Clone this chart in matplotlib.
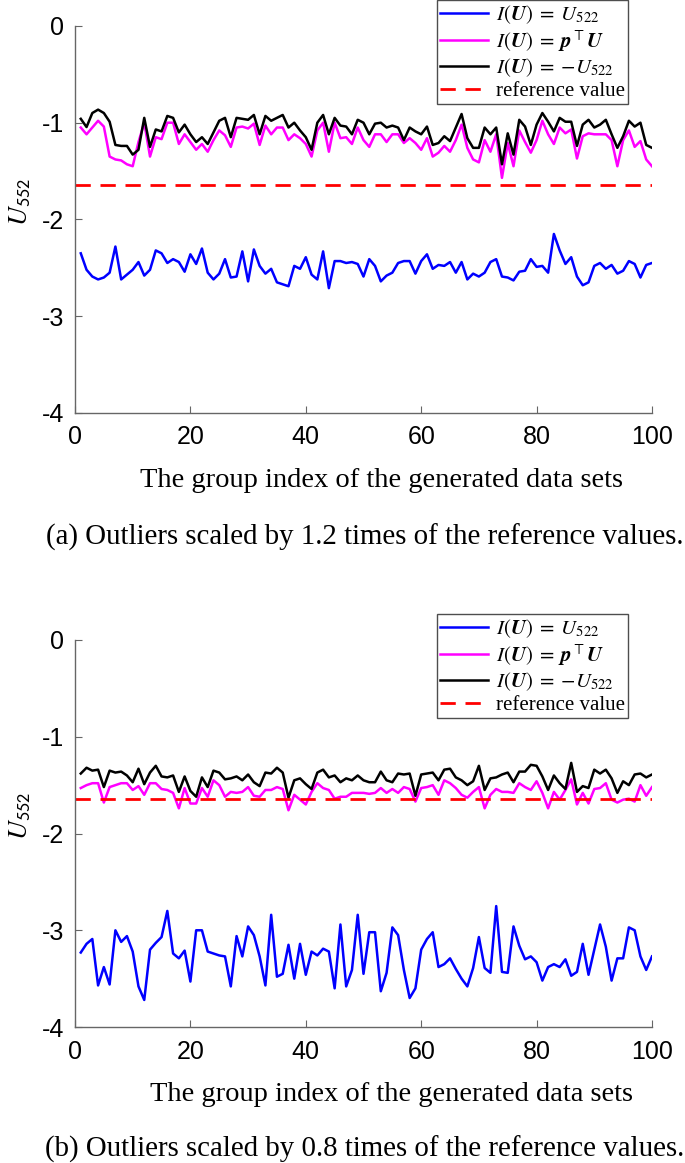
import numpy as np
import matplotlib
matplotlib.use("Agg")
import matplotlib.pyplot as plt

plt.rcParams['mathtext.fontset'] = 'stix'
plt.rcParams['font.family'] = ['Liberation Serif', 'DejaVu Serif']
plt.rcParams['axes.unicode_minus'] = False

# group index of the generated data sets
idx = np.arange(1, 101)
ref_value = -1.645

# (a) outliers scaled by 1.2
a_blue = [-2.35, -2.52, -2.59, -2.62, -2.60, -2.55, -2.28, -2.62, -2.57, -2.52,
          -2.44, -2.58, -2.52, -2.32, -2.35, -2.45, -2.41, -2.44, -2.54, -2.36,
          -2.46, -2.30, -2.55, -2.62, -2.56, -2.41, -2.60, -2.59, -2.33, -2.64,
          -2.31, -2.48, -2.56, -2.51, -2.65, -2.67, -2.69, -2.48, -2.51, -2.39,
          -2.57, -2.62, -2.33, -2.71, -2.43, -2.43, -2.45, -2.44, -2.46, -2.59,
          -2.41, -2.48, -2.64, -2.58, -2.55, -2.45, -2.43, -2.43, -2.56, -2.43,
          -2.36, -2.51, -2.47, -2.48, -2.44, -2.55, -2.44, -2.62, -2.56, -2.59,
          -2.55, -2.44, -2.41, -2.59, -2.60, -2.63, -2.54, -2.53, -2.41, -2.49,
          -2.48, -2.55, -2.15, -2.32, -2.46, -2.39, -2.59, -2.68, -2.65, -2.48,
          -2.45, -2.51, -2.47, -2.56, -2.53, -2.43, -2.46, -2.60, -2.47, -2.45]
a_magenta = [-1.05, -1.12, -1.05, -0.98, -1.04, -1.35, -1.38, -1.39, -1.43, -1.45,
             -1.20, -1.00, -1.35, -1.15, -1.17, -1.00, -1.00, -1.22, -1.12, -1.20,
             -1.28, -1.22, -1.30, -1.18, -1.08, -1.13, -1.25, -1.05, -1.04, -1.06,
             -1.01, -1.23, -1.03, -1.12, -1.05, -1.05, -1.18, -1.12, -1.16, -1.22,
             -1.35, -1.08, -1.00, -1.30, -1.00, -1.16, -1.15, -1.22, -1.05, -1.18,
             -1.25, -1.12, -1.12, -1.20, -1.12, -1.12, -1.21, -1.16, -1.21, -1.28,
             -1.16, -1.35, -1.31, -1.24, -1.30, -1.18, -1.02, -1.26, -1.38, -1.41,
             -1.18, -1.30, -1.12, -1.57, -1.21, -1.45, -1.08, -1.20, -1.31, -1.18,
             -0.98, -1.12, -1.22, -1.05, -1.11, -1.07, -1.37, -1.14, -1.11, -1.12,
             -1.12, -1.12, -1.18, -1.45, -1.18, -1.08, -1.25, -1.19, -1.38, -1.45]
a_black = [-0.96, -1.045, -0.90, -0.865, -0.90, -0.99, -1.23, -1.24, -1.24, -1.33,
           -1.28, -0.95, -1.25, -1.07, -1.09, -0.93, -0.95, -1.10, -1.02, -1.12,
           -1.20, -1.15, -1.22, -1.10, -0.98, -0.95, -1.15, -0.95, -0.96, -0.97,
           -0.92, -1.12, -0.93, -0.98, -0.95, -0.92, -1.05, -1.00, -1.08, -1.15,
           -1.28, -1.00, -0.92, -1.12, -0.95, -1.03, -1.04, -1.12, -0.97, -1.00,
           -1.12, -1.01, -1.00, -1.05, -1.03, -1.05, -1.18, -1.05, -1.09, -1.12,
           -1.04, -1.23, -1.21, -1.14, -1.19, -1.05, -0.91, -1.16, -1.26, -1.26,
           -1.05, -1.12, -1.05, -1.43, -1.11, -1.33, -0.97, -1.04, -1.23, -1.02,
           -0.90, -0.99, -1.09, -0.95, -0.99, -0.99, -1.24, -1.02, -0.97, -1.05,
           -1.02, -0.97, -1.12, -1.26, -1.14, -0.98, -1.04, -1.00, -1.23, -1.26]

# (b) outliers scaled by 0.8
b_blue = [-3.23, -3.14, -3.09, -3.57, -3.38, -3.56, -3.00, -3.12, -3.06, -3.22,
          -3.58, -3.72, -3.20, -3.13, -3.07, -2.80, -3.24, -3.29, -3.21, -3.53,
          -3.00, -3.00, -3.22, -3.24, -3.26, -3.27, -3.58, -3.06, -3.27, -2.96,
          -3.05, -3.27, -3.57, -2.84, -3.48, -3.45, -3.15, -3.50, -3.14, -3.46,
          -3.22, -3.26, -3.19, -3.22, -3.60, -2.94, -3.58, -3.41, -2.84, -3.45,
          -3.02, -3.02, -3.63, -3.44, -2.97, -3.05, -3.41, -3.70, -3.60, -3.20,
          -3.09, -3.02, -3.38, -3.35, -3.29, -3.40, -3.50, -3.58, -3.39, -3.07,
          -3.39, -3.44, -2.75, -3.43, -3.44, -2.96, -3.16, -3.30, -3.27, -3.33,
          -3.52, -3.38, -3.35, -3.38, -3.30, -3.47, -3.43, -3.14, -3.46, -3.20,
          -2.94, -3.17, -3.52, -3.29, -3.29, -2.97, -3.00, -3.27, -3.41, -3.27]
b_magenta = [-1.53, -1.50, -1.48, -1.48, -1.68, -1.52, -1.50, -1.48, -1.48, -1.55,
             -1.51, -1.60, -1.48, -1.48, -1.54, -1.55, -1.58, -1.74, -1.53, -1.69,
             -1.69, -1.53, -1.62, -1.45, -1.50, -1.62, -1.57, -1.58, -1.57, -1.52,
             -1.61, -1.62, -1.55, -1.55, -1.52, -1.54, -1.76, -1.60, -1.65, -1.70,
             -1.57, -1.48, -1.53, -1.55, -1.64, -1.62, -1.62, -1.58, -1.58, -1.58,
             -1.59, -1.58, -1.53, -1.58, -1.54, -1.58, -1.52, -1.54, -1.67, -1.53,
             -1.52, -1.50, -1.60, -1.45, -1.48, -1.53, -1.60, -1.63, -1.57, -1.52,
             -1.74, -1.60, -1.54, -1.57, -1.57, -1.58, -1.48, -1.52, -1.55, -1.46,
             -1.58, -1.74, -1.57, -1.65, -1.55, -1.44, -1.70, -1.58, -1.69, -1.54,
             -1.53, -1.48, -1.65, -1.68, -1.65, -1.64, -1.67, -1.50, -1.61, -1.52]
b_black = [-1.38, -1.32, -1.35, -1.34, -1.52, -1.35, -1.37, -1.36, -1.40, -1.47,
           -1.33, -1.49, -1.37, -1.30, -1.41, -1.42, -1.40, -1.57, -1.41, -1.56,
           -1.62, -1.42, -1.52, -1.35, -1.37, -1.44, -1.43, -1.41, -1.45, -1.39,
           -1.47, -1.51, -1.37, -1.38, -1.32, -1.37, -1.63, -1.45, -1.43, -1.49,
           -1.54, -1.37, -1.34, -1.42, -1.40, -1.47, -1.43, -1.45, -1.40, -1.45,
           -1.47, -1.47, -1.36, -1.45, -1.47, -1.38, -1.39, -1.38, -1.61, -1.39,
           -1.38, -1.37, -1.45, -1.34, -1.33, -1.42, -1.45, -1.50, -1.46, -1.30,
           -1.55, -1.43, -1.42, -1.39, -1.37, -1.47, -1.36, -1.36, -1.29, -1.30,
           -1.41, -1.55, -1.40, -1.48, -1.54, -1.27, -1.57, -1.51, -1.53, -1.34,
           -1.38, -1.34, -1.43, -1.58, -1.46, -1.50, -1.39, -1.38, -1.42, -1.39]

labels = [r'$I(\boldsymbol{U})\;=\;U_{\mathrm{522}}$',
          r'$I(\boldsymbol{U})\;=\;\boldsymbol{p}^{\top}\boldsymbol{U}$',
          r'$I(\boldsymbol{U})\;=\;{-}U_{\mathrm{522}}$',
          'reference value']
captions = ['(a) Outliers scaled by 1.2 times of the reference values.',
            '(b) Outliers scaled by 0.8 times of the reference values.']

fig = plt.figure(figsize=(6.85, 11.63), dpi=100)
ax_a = fig.add_axes([0.1095, 0.6449, 0.8423, 0.3328])
ax_b = fig.add_axes([0.1095, 0.1169, 0.8423, 0.3328])

panels = [(ax_a, a_blue, a_magenta, a_black), (ax_b, b_blue, b_magenta, b_black)]
cap_y = [0.538, 0.0115]
xlab_x = [0.532, 0.549]
for k, (ax, blue, mag, blk) in enumerate(panels):
    ax.plot(idx, blue, color='#0000ff', lw=1.8, label=labels[0])
    ax.plot(idx, mag, color='#ff00ff', lw=1.8, label=labels[1])
    ax.plot(idx, blk, color='black', lw=1.8, label=labels[2])
    ax.plot([0, 100], [ref_value, ref_value], color='#ff0000', lw=2,
            linestyle=(0, (5.5, 3.5)), label=labels[3])
    ax.set_xlim(0, 100)
    ax.set_ylim(-4, 0)
    ax.set_xticks(range(0, 101, 20))
    ax.set_yticks(range(-4, 1))
    for s in ['top', 'right']:
        ax.spines[s].set_visible(False)
    for s in ['left', 'bottom']:
        ax.spines[s].set_color('#666666')
        ax.spines[s].set_linewidth(1.0)
    ax.tick_params(direction='in', length=5, color='#666666', labelsize=18)
    ax.tick_params(axis='x', pad=9)
    ax.tick_params(axis='y', pad=8)
    for t in ax.get_xticklabels() + ax.get_yticklabels():
        t.set_family('Liberation Sans')
    ax.set_xlabel('The group index of the generated data sets', fontsize=20.5)
    ax.xaxis.set_label_coords(xlab_x[k], -0.143)
    ax.set_ylabel(r'$U_{\mathsf{552}}$', fontsize=19)
    ax.yaxis.set_label_coords(-0.073, 0.545)
    leg = ax.legend(loc='upper right', bbox_to_anchor=(0.959, 1.067), fontsize=15,
                    frameon=True, fancybox=False, borderpad=0.15, labelspacing=0.12,
                    handlelength=2.3, handletextpad=0.4, borderaxespad=0)
    leg.get_frame().set_edgecolor('#222222')
    leg.get_frame().set_linewidth(1.0)
    fig.text(0.532, cap_y[k], captions[k], ha='center', va='center', fontsize=20.8)

fig.savefig('out.png', dpi=100)
